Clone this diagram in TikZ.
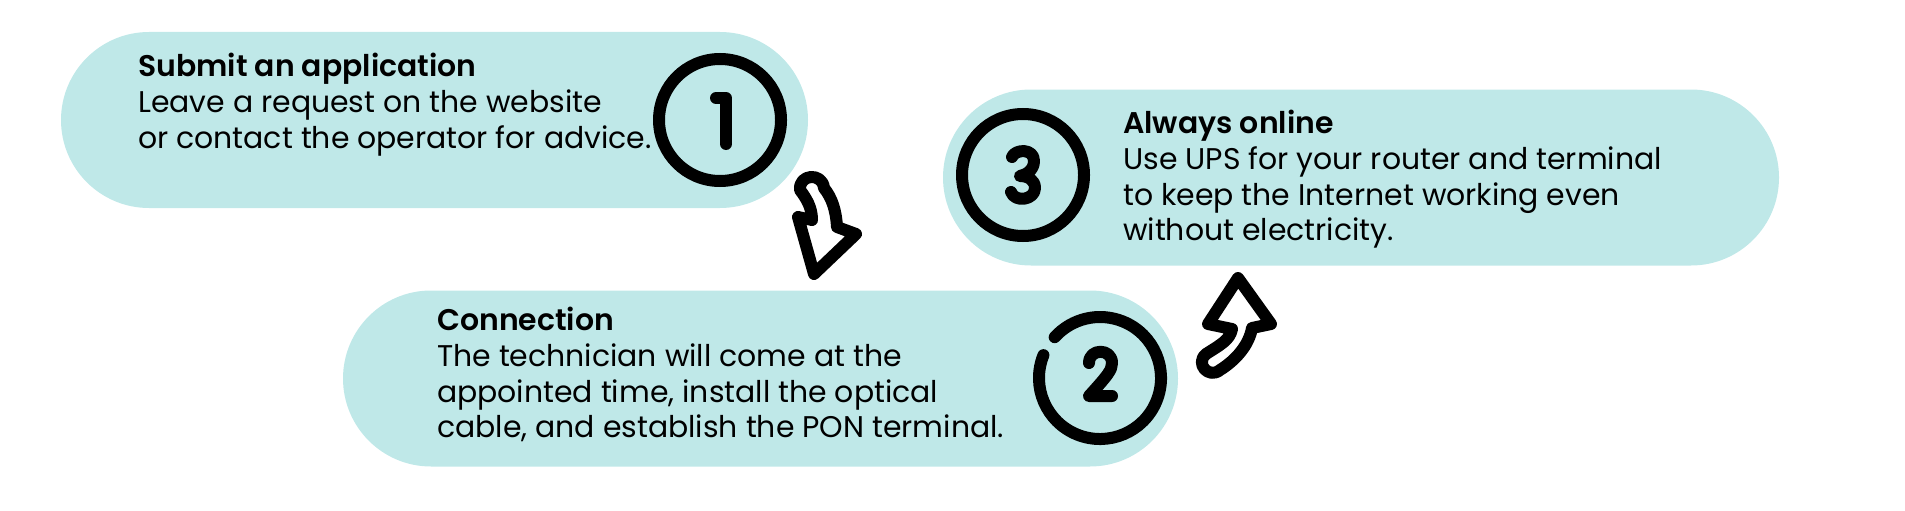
\documentclass[tikz,border=0pt]{standalone}
\usepackage{fontspec}
\setmainfont{Poppins}[BoldFont={* SemiBold}]
\definecolor{pillc}{RGB}{191,232,232}
\tikzset{
  pillbox/.style={fill=pillc, draw=none, rectangle, rounded corners=88pt, inner sep=0pt, minimum height=176pt},
  ring/.style={circle, draw=black, line width=12pt, inner sep=0pt, minimum size=122pt},
  glyph/.style={draw=black, line width=12pt, line cap=round, line join=round},
  bigarrow/.style={draw=black, fill=white, line width=12pt, line cap=round, line join=round},
  txt/.style={anchor=base west, inner sep=0pt, font=\fontsize{29.9}{34}\selectfont},
  ttl/.style={txt, font=\fontsize{29.9}{34}\selectfont\bfseries}
}
\begin{document}
\begin{tikzpicture}[x=1pt,y=-1pt]
\useasboundingbox (0,0) rectangle (1905,511);
% pills
\node[pillbox, minimum width=747pt] (p1) at (434.5,120) {};
\node[pillbox, minimum width=835pt] (p2) at (760.5,378.5) {};
\node[pillbox, minimum width=836pt] (p3) at (1361,177.5) {};
% rings
\node[ring] (c1) at (720,120) {};
\node[ring] (c3) at (1023,175) {};
\node[inner sep=0pt, minimum size=122pt, circle] (c2) at (1100,378) {};
\draw[glyph] (c2.center) ++(158:61pt) arc[start angle=158, end angle=498, radius=61pt];
% digits
\draw[glyph] (716,98) -- (726,98) -- (726,144);
\draw[glyph] (1089,363) .. controls (1089,348) and (1112,348) .. (1112,363)
  .. controls (1112,370) and (1108,375) .. (1089,396) -- (1112,396);
\draw[glyph] (1012,157) .. controls (1015,149) and (1034,148) .. (1034,161)
  .. controls (1034,170) and (1026,175) .. (1020,176)
  .. controls (1028,176) and (1035,180) .. (1035,188)
  .. controls (1035,200) and (1015,203) .. (1011,192);
% arrows
\draw[bigarrow] (798,217) -- (814,274) -- (856,234) -- (837,227)
  .. controls (836,210) and (832,198) .. (824,188)
  .. controls (822.4,172) and (798.4,174) .. (800,190)
  .. controls (806,198) and (812,207) .. (812,220) -- cycle;
\draw[bigarrow] (1238,278) -- (1271,324) -- (1252,328)
  .. controls (1249,345) and (1236,360) .. (1220,370)
  .. controls (1208.7,379.4) and (1194.7,363.4) .. (1206,354)
  .. controls (1220,345) and (1230,340) .. (1232,329) -- (1208,324) -- cycle;
% texts
\node[ttl] (t1a) at (138,77) {Submit an application};
\node[txt] (t1b) at (138,112.5) {Leave a request on the website};
\node[txt] (t1c) at (138,148) {or contact the operator for advice.};
\node[ttl] (t2a) at (437,330) {Connection};
\node[txt] (t2b) at (437,366.5) {The technician will come at the};
\node[txt] (t2c) at (437,402) {appointed time, install the optical};
\node[txt] (t2d) at (437,437.5) {cable, and establish the PON terminal.};
\node[ttl] (t3a) at (1123,133) {Always online};
\node[txt] (t3b) at (1123,169) {Use UPS for your router and terminal};
\node[txt] (t3c) at (1123,205) {to keep the Internet working even};
\node[txt] (t3d) at (1123,240.5) {without electricity.};
\end{tikzpicture}
\end{document}
